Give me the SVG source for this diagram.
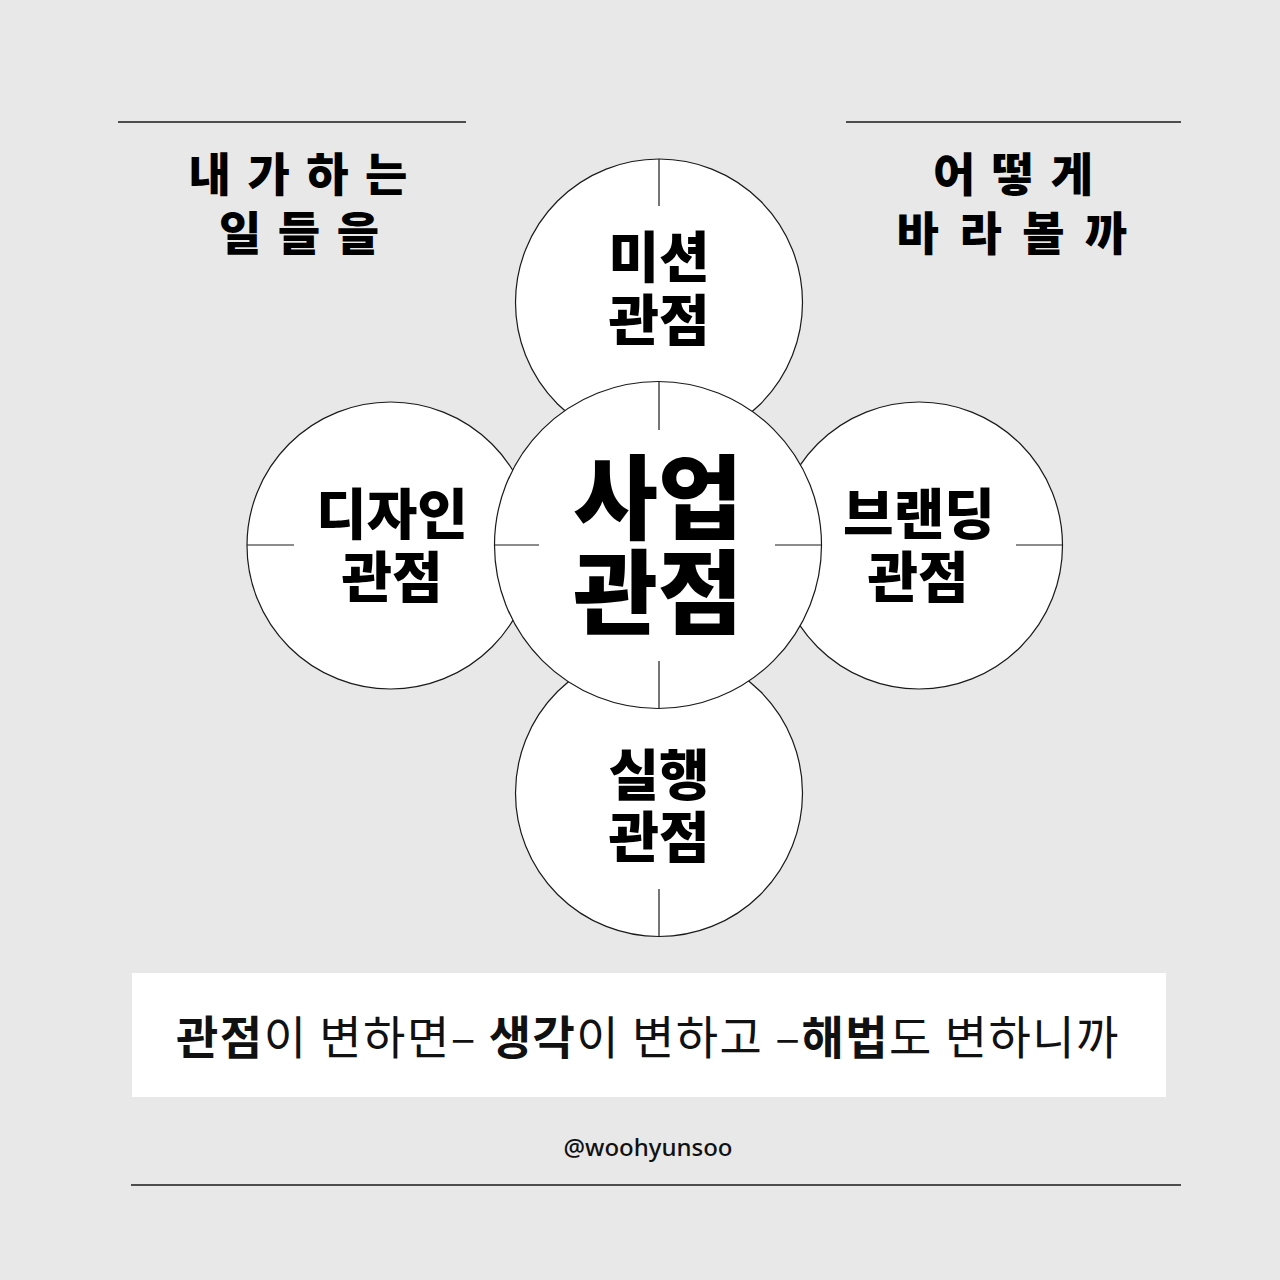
<svg xmlns="http://www.w3.org/2000/svg" width="1280" height="1280" viewBox="0 0 1280 1280">
  <style>
    .bg { fill: #e8e8e8; }
    .circ { fill: #ffffff; stroke: #1a1a1a; stroke-width: 1.2; }
    .tick { stroke: #1a1a1a; stroke-width: 1.2; }
    .rule { stroke: #1a1a1a; stroke-width: 1.5; }
    .head { font-family: "Noto Sans CJK KR", "Noto Sans", sans-serif; font-weight: 900; fill: #000; text-anchor: middle; }
    .title { font-size: 46px; word-spacing: 6px; }
    .lbl { font-size: 55px; }
    .big { font-size: 92px; }
    .msg { font-family: "Noto Sans CJK KR", "Noto Sans", sans-serif; font-size: 46px; font-weight: 400; fill: #111; letter-spacing: 1.5px; }
    .msg .b { font-weight: 700; }
    .handle { font-family: "Noto Sans", "Liberation Sans", sans-serif; font-size: 24px; font-weight: 500; fill: #111; text-anchor: middle; }
  </style>
  <rect class="bg" x="0" y="0" width="1280" height="1280"/>

  <g id="header-left">
    <line class="rule" x1="118" y1="122" x2="466" y2="122"/>
    <text class="head title"><tspan x="298" y="191">내 가 하 는</tspan><tspan x="299" y="250">일 들 을</tspan></text>
  </g>
  <g id="header-right">
    <line class="rule" x1="846" y1="122" x2="1181" y2="122"/>
    <text class="head title"><tspan x="1013" y="191">어 떻 게</tspan><tspan x="1012" y="250" style="word-spacing:10px">바 라 볼 까</tspan></text>
  </g>

  <g id="node-mission">
    <circle class="circ" cx="659" cy="302.5" r="143.5"/>
    <line class="tick" x1="659" y1="159" x2="659" y2="206"/>
    <text class="head lbl"><tspan x="659" y="277">미션</tspan><tspan x="659" y="340">관점</tspan></text>
  </g>
  <g id="node-design">
    <circle class="circ" cx="390.5" cy="545.5" r="143.5"/>
    <line class="tick" x1="247" y1="545" x2="294" y2="545"/>
    <text class="head lbl"><tspan x="392" y="534">디자인</tspan><tspan x="392" y="597">관점</tspan></text>
  </g>
  <g id="node-branding">
    <circle class="circ" cx="919" cy="545.5" r="143.5"/>
    <line class="tick" x1="1016" y1="545" x2="1062.5" y2="545"/>
    <text class="head lbl"><tspan x="919" y="534">브랜딩</tspan><tspan x="918" y="597">관점</tspan></text>
  </g>
  <g id="node-execution">
    <circle class="circ" cx="659" cy="793" r="143.5"/>
    <line class="tick" x1="659" y1="889" x2="659" y2="936.5"/>
    <text class="head lbl"><tspan x="659" y="795">실행</tspan><tspan x="659" y="857">관점</tspan></text>
  </g>
  <g id="node-business">
    <circle class="circ" cx="658" cy="545" r="163.5"/>
    <line class="tick" x1="659" y1="381.5" x2="659" y2="430"/>
    <line class="tick" x1="659" y1="661" x2="659" y2="708.5"/>
    <line class="tick" x1="494.5" y1="545" x2="539" y2="545"/>
    <line class="tick" x1="775" y1="545" x2="821.5" y2="545"/>
    <text class="head big"><tspan x="658" y="532">사업</tspan><tspan x="658" y="627">관점</tspan></text>
  </g>

  <g id="connectors"></g>

  <g id="message">
    <rect x="132" y="973" width="1034" height="124" fill="#ffffff"/>
    <text class="msg" x="176" y="1054"><tspan class="b">관점</tspan>이 변하면– <tspan class="b">생각</tspan>이 변하고 –<tspan class="b">해법</tspan>도 변하니까</text>
  </g>
  <g id="footer">
    <text class="handle" x="648" y="1156">@woohyunsoo</text>
    <line class="rule" x1="131" y1="1185" x2="1181" y2="1185" stroke="#444"/>
  </g>
</svg>
